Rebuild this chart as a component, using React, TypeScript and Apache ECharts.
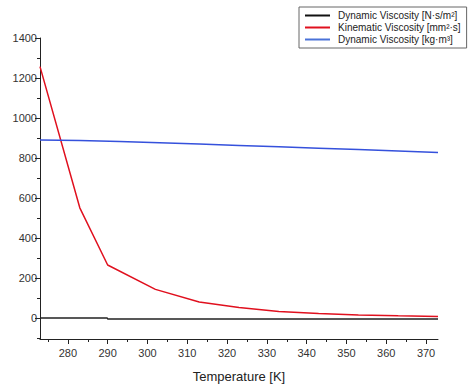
import React, { useEffect, useRef } from "react";
import * as echarts from "echarts";

const temperature = [273, 283, 290, 302, 313, 323, 333, 343, 353, 363, 373];
const kinematic = [1257, 551, 265, 143, 80, 52, 33, 22, 15, 11, 8];
const densityT = [273, 283, 293, 303, 313, 323, 333, 343, 353, 363, 373];
const density = [890, 887, 882, 876, 870, 863, 856, 849, 842, 835, 828];
const dynamicT = [273, 289.9, 290, 373];
const dynamic = [0, 0, -5, -5];
const yMajor = [0, 200, 400, 600, 800, 1000, 1200, 1400];
const yMinor = [-100, 100, 300, 500, 700, 900, 1100, 1300];
const xMajor = [280, 290, 300, 310, 320, 330, 340, 350, 360, 370];
const xMinor = [275, 285, 295, 305, 315, 325, 335, 345, 355, 365];
const names = [
  "Dynamic Viscosity [N·s/m²]",
  "Kinematic Viscosity [mm²·s]",
  "Dynamic Viscosity [kg·m³]",
];

const FONT = "Liberation Sans, Arial, sans-serif";

export default function App() {
  const ref = useRef<HTMLDivElement>(null);
  useEffect(() => {
    if (!ref.current) return;
    const chart = echarts.init(ref.current, null, { renderer: "svg" });
    const pair = (xs: number[], ys: number[]) => xs.map((x, i) => [x, ys[i]]);
    const plain = (v: number) => String(v);
    const axisCommon = {
      type: "value" as const,
      splitLine: { show: false },
    };
    chart.setOption({
      animation: false,
      backgroundColor: "#fff",
      textStyle: { fontFamily: FONT },
      grid: { left: 40, right: 36, top: 38, bottom: 51 },
      legend: {
        orient: "vertical",
        left: 299,
        top: 7,
        padding: [3, 6, 3, 6],
        itemGap: 1,
        itemWidth: 25,
        itemHeight: 2,
        icon: "rect",
        borderColor: "#666",
        borderWidth: 1,
        textStyle: { fontSize: 10, color: "#222", fontFamily: FONT, lineHeight: 11, padding: [0, 0, 0, 3] },
        data: names,
      },
      xAxis: [
        {
          ...axisCommon,
          min: 273,
          max: 373,
          name: "Temperature [K]",
          nameLocation: "middle",
          nameGap: 31,
          nameTextStyle: { fontSize: 13, color: "#222", fontFamily: FONT },
          axisLine: { show: true, onZero: false, lineStyle: { color: "#222", width: 1 } },
          axisTick: { show: true, customValues: xMajor, length: 5, lineStyle: { color: "#222" } },
          axisLabel: { customValues: xMajor, fontSize: 11, color: "#333", margin: 8, fontFamily: FONT, formatter: plain },
        },
        {
          ...axisCommon,
          min: 273,
          max: 373,
          position: "bottom",
          axisLine: { show: false, onZero: false },
          axisTick: { show: true, customValues: xMinor, length: 3, lineStyle: { color: "#222" } },
          axisLabel: { show: false },
        },
      ],
      yAxis: [
        {
          ...axisCommon,
          min: -105,
          max: 1400,
          axisLine: { show: true, onZero: false, lineStyle: { color: "#222", width: 1 } },
          axisTick: { show: true, customValues: yMajor, length: 5, lineStyle: { color: "#222" } },
          axisLabel: { customValues: yMajor, fontSize: 11, color: "#333", margin: 3, fontFamily: FONT, formatter: plain },
        },
        {
          ...axisCommon,
          min: -105,
          max: 1400,
          position: "left",
          axisLine: { show: false, onZero: false },
          axisTick: { show: true, customValues: yMinor, length: 3, lineStyle: { color: "#222" } },
          axisLabel: { show: false },
        },
      ],
      series: [
        {
          name: names[0],
          type: "line",
          showSymbol: false,
          data: pair(dynamicT, dynamic),
          lineStyle: { color: "#222", width: 1.3 },
          itemStyle: { color: "#111" },
        },
        {
          name: names[1],
          type: "line",
          showSymbol: false,
          data: pair(temperature, kinematic),
          lineStyle: { color: "#e0101e", width: 1.5 },
          itemStyle: { color: "#e0101e" },
        },
        {
          name: names[2],
          type: "line",
          showSymbol: false,
          data: pair(densityT, density),
          lineStyle: { color: "#3551dc", width: 1.5 },
          itemStyle: { color: "#4a72d8" },
        },
      ],
    });
    return () => chart.dispose();
  }, []);
  return <div ref={ref} style={{ width: 474, height: 390, position: "absolute", left: 0, top: 0 }} />;
}
